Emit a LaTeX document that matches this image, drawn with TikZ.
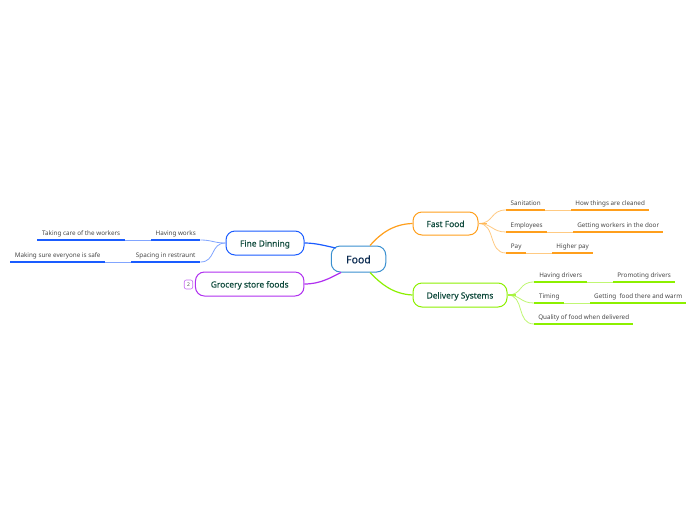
\documentclass[tikz,border=0pt]{standalone}
\usepackage{fontspec}
\setmainfont{Noto Sans}
\newfontfamily\topicfont[FakeBold=0.35]{Noto Sans}
\definecolor{cblue}{HTML}{1A5CFF}
\definecolor{corange}{HTML}{FF9F1C}
\definecolor{cgreen}{HTML}{8CF000}
\definecolor{cpurple}{HTML}{B030F0}
\definecolor{cfood}{HTML}{3A90D0}
\definecolor{ctext}{HTML}{0F4A3C}
\definecolor{cfoodtext}{HTML}{0A2A50}
\tikzset{
  x=1pt,y=-1pt,
  topic/.style={draw=#1,line width=1pt,rounded corners=9pt,inner sep=0pt,text height=7pt,text depth=0pt,text=ctext,font=\fontsize{8.4}{10}\selectfont\topicfont},
  sub/.style={anchor=south west,inner xsep=0pt,inner ysep=3.1pt,text height=5pt,text depth=1.5pt,text=black!72,font=\fontsize{6.3}{8}\selectfont},
  under/.style={draw=#1,line width=1.7pt},
  branch/.style={draw=#1,line width=1.2pt},
  twig/.style={draw=#1!55,line width=.8pt},
  stub/.style={draw=#1!75,line width=1.3pt},
}
\begin{document}
\begin{tikzpicture}
\useasboundingbox (0,0) rectangle (696,520);
\fill[white] (0,0) rectangle (696,520);
% main nodes
\node[topic=cfood,minimum width=54.5pt,minimum height=26pt,text height=8.6pt,text=cfoodtext,font=\fontsize{10.5}{12}\selectfont\topicfont] (food) at (358.5,259) {Food};
\node[topic=cblue,minimum width=78pt,minimum height=24pt] (fine) at (265,243) {Fine Dinning};
\node[topic=cpurple,minimum width=108.5pt,minimum height=24pt] (groc) at (249.7,284) {Grocery store foods};
\node[topic=corange,minimum width=65pt,minimum height=23pt] (fast) at (445.5,223.5) {Fast Food};
\node[topic=cgreen,minimum width=94pt,minimum height=24pt] (deliv) at (460,295) {Delivery Systems};
\node[draw=cpurple!70,line width=.6pt,rounded corners=2pt,minimum width=8.5pt,minimum height=9pt,inner sep=0pt,text=black!70,font=\fontsize{5}{6}\selectfont] (badge) at (188.5,284.5) {2};
% sub nodes
\node[sub,minimum width=49pt] (hworks) at (151,240) {Having works};
\node[sub,minimum width=88pt] (taking) at (37,240) {Taking care of the workers};
\node[sub,minimum width=69pt] (spacing) at (131,262) {Spacing in restraunt};
\node[sub,minimum width=95pt] (making) at (10,262) {Making sure everyone is safe};
\node[sub,minimum width=39pt] (san) at (506,210) {Sanitation};
\node[sub,minimum width=78pt] (how) at (571,210) {How things are cleaned};
\node[sub,minimum width=41pt] (emp) at (506,232) {Employees};
\node[sub,minimum width=90pt] (getw) at (573,232) {Getting workers in the door};
\node[sub,minimum width=20pt] (pay) at (506,253) {Pay};
\node[sub,minimum width=41pt] (higher) at (552,253) {Higher pay};
\node[sub,minimum width=53pt] (hdriv) at (534,282) {Having drivers};
\node[sub,minimum width=62pt] (prom) at (613,282) {Promoting drivers};
\node[sub,minimum width=30pt] (tim) at (534,303) {Timing};
\node[sub,minimum width=96pt] (getf) at (590,303) {Getting\ \ food there and warm};
\node[sub,minimum width=99pt] (qual) at (534,324) {Quality of food when delivered};
% anchors on Food's border
\coordinate (fNE) at ([xshift=11.5pt]food.north);
\coordinate (fSE) at ([xshift=11.5pt]food.south);
\coordinate (fW) at ([xshift=5pt,yshift=-2.5pt]food.north west);
\coordinate (fSW) at ([xshift=-17.5pt]food.south);
% main branches
\draw[branch=corange] (fast.west) .. controls (393,224) and (380,234) .. (fNE);
\draw[branch=cgreen] (deliv.west) .. controls (393,294) and (381,284) .. (fSE);
\draw[branch=cblue] (fine.east) .. controls (316,243) and (326,246) .. (fW);
\draw[branch=cpurple] (groc.east) .. controls (320,284) and (330,278) .. (fSW);
% twigs: orange
\draw[twig=corange] (fast.east) .. controls (494,223.5) and (490,210) .. (san.south west);
\draw[twig=corange] (fast.east) .. controls (492,223.5) and (492,232) .. (emp.south west);
\draw[twig=corange] (fast.east) .. controls (496,223.5) and (488,253) .. (pay.south west);
\draw[twig=corange] (san.south east) -- (how.south west);
\draw[twig=corange] (emp.south east) -- (getw.south west);
\draw[twig=corange] (pay.south east) -- (higher.south west);
\draw[stub=corange] (fast.east) -- ++(8,0);
% twigs: green
\draw[twig=cgreen] (deliv.east) .. controls (523,295) and (518,282) .. (hdriv.south west);
\draw[twig=cgreen] (deliv.east) .. controls (521,295) and (520,303) .. (tim.south west);
\draw[twig=cgreen] (deliv.east) .. controls (525,295) and (516,324) .. (qual.south west);
\draw[twig=cgreen] (hdriv.south east) -- (prom.south west);
\draw[twig=cgreen] (tim.south east) -- (getf.south west);
\draw[stub=cgreen] (deliv.east) -- ++(8,0);
% twigs: blue
\draw[twig=cblue] (fine.west) .. controls (214,243) and (212,240) .. (hworks.south east);
\draw[twig=cblue] (fine.west) .. controls (210,243) and (216,262) .. (spacing.south east);
\draw[twig=cblue] (hworks.south west) -- (taking.south east);
\draw[twig=cblue] (spacing.south west) -- (making.south east);
% underlines
\foreach \n/\c in {hworks/cblue,taking/cblue,spacing/cblue,making/cblue,san/corange,how/corange,emp/corange,getw/corange,pay/corange,higher/corange,hdriv/cgreen,prom/cgreen,tim/cgreen,getf/cgreen,qual/cgreen}
  \draw[under=\c] (\n.south west) -- (\n.south east);
\end{tikzpicture}
\end{document}
